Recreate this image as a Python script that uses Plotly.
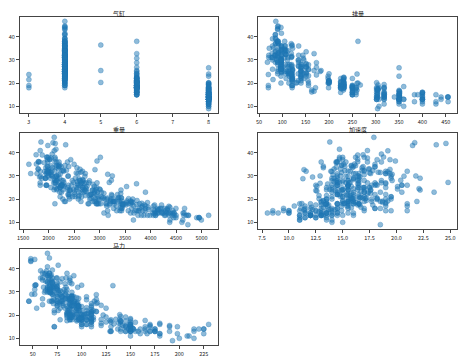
import plotly.graph_objects as go

# auto-mpg data (mpg vs. engine/vehicle characteristics)
mpg = [
    18,15,18,16,17,15,14,14,14,15,15,14,15,14,24,22,18,21,27,26,25,24,25,26,21,10,10,11,9,
    27,28,25,25,19,16,17,19,18,14,14,14,14,12,13,13,18,22,19,18,23,28,30,30,31,35,27,26,
    24,25,23,20,21,13,14,15,14,17,11,13,12,13,19,15,13,13,14,18,22,21,26,22,28,23,28,27,
    13,14,13,14,15,12,13,13,14,13,12,13,18,16,18,18,23,26,11,12,13,12,18,20,21,22,18,19,21,26,15,16,29,24,20,19,15,24,20,11,
    20,21,19,15,31,26,32,25,16,16,18,16,13,14,14,14,29,26,26,31,32,28,24,26,24,26,31,
    19,18,15,15,16,15,16,14,17,16,15,18,21,20,13,29,23,20,23,24,25,24,18,29,19,23,23,22,25,33,
    28,25,25,26,27,17.5,16,15.5,14.5,22,22,24,22.5,29,24.5,29,33,20,18,18.5,17.5,29.5,32,28,26.5,20,13,19,19,16.5,16.5,13,13,13,
    31.5,30,36,25.5,33.5,17.5,17,15.5,15,17.5,20.5,19,18.5,16,15.5,15.5,16,29,24.5,26,25.5,30.5,33.5,30,30.5,22,21.5,21.5,
    43.1,36.1,32.8,39.4,36.1,19.9,19.4,20.2,19.2,20.5,20.2,25.1,20.5,19.4,20.6,20.8,18.6,18.1,19.2,17.7,18.1,17.5,30,27.5,27.2,30.9,21.1,23.2,23.8,23.9,20.3,17,21.6,16.2,31.5,29.5,
    21.5,19.8,22.3,20.2,20.6,17,17.6,16.5,18.2,16.9,15.5,19.2,18.5,31.9,34.1,35.7,27.4,25.4,23,27.2,23.9,34.2,34.5,31.8,37.3,28.4,28.8,26.8,33.5,
    41.5,38.1,32.1,37.2,28,26.4,24.3,19.1,34.3,29.8,31.3,37,32.2,46.6,27.9,40.8,44.3,43.4,36.4,30,44.6,40.9,33.8,29.8,32.7,23.7,35,23.6,32.4,
    27.2,26.6,25.8,23.5,30,39.1,39,35.1,32.3,37,37.7,34.1,34.7,34.4,29.9,33,34.5,33.7,32.4,32.9,31.6,28.1,30.7,25.4,24.2,22.4,26.6,20.2,17.6,
    28,27,34,31,29,27,24,23,36,37,31,38,36,36,36,34,38,32,38,25,38,26,22,32,36,27,27,44,32,28,31,
]

cylinders = [
    8,8,8,8,8,8,8,8,8,8,8,8,8,8,4,6,6,6,4,4,4,4,4,4,6,8,8,8,8,
    4,4,4,4,6,6,6,6,6,8,8,8,8,8,8,8,6,4,6,6,4,4,4,4,4,4,4,4,
    4,4,4,4,4,8,8,8,8,8,8,8,8,8,3,8,8,8,8,4,4,4,4,4,4,4,4,4,
    8,8,8,8,8,8,8,8,8,8,8,8,6,6,6,6,6,4,8,8,8,8,6,4,4,4,3,4,6,4,8,8,4,4,4,4,8,4,6,8,
    6,6,6,6,4,4,4,4,6,6,6,8,8,8,8,8,4,4,4,4,4,4,4,4,4,4,4,
    6,6,6,6,8,8,8,8,6,6,6,6,6,8,8,4,4,6,4,4,4,4,6,4,6,4,4,4,4,4,
    4,4,4,4,4,8,8,8,8,6,6,6,6,4,4,4,4,6,6,6,6,4,4,4,4,4,8,4,6,6,8,8,8,8,
    4,4,4,4,4,8,8,8,8,6,6,6,6,8,8,8,8,4,4,4,4,4,4,4,4,6,4,3,
    4,4,4,4,4,8,8,8,6,6,6,4,6,6,6,6,6,6,8,6,8,8,4,4,4,4,4,4,4,4,5,6,4,6,4,4,
    6,6,4,6,6,8,8,8,8,8,8,8,8,4,4,4,4,5,8,4,8,4,4,4,4,4,6,6,4,
    4,4,4,4,4,4,4,6,4,4,4,4,4,4,4,4,4,4,5,4,4,4,4,4,6,3,4,4,4,
    4,4,4,6,4,4,4,4,4,4,4,4,4,4,4,4,4,4,4,4,4,4,6,6,6,6,8,6,6,
    4,4,4,4,4,4,4,4,4,4,4,4,4,4,4,4,4,4,4,6,6,4,6,4,4,4,4,4,4,4,4,
]

displacement = [
    307,350,318,304,302,429,454,440,455,390,383,340,400,455,113,198,199,200,97,97,110,107,104,121,199,360,307,318,304,
    97,140,113,98,232,225,250,250,232,350,400,351,318,383,400,400,258,140,250,250,122,116,79,88,71,72,97,91,
    113,97.5,97,140,122,350,400,318,351,304,429,350,350,400,70,304,307,302,318,121,121,120,96,122,97,120,98,97,
    350,304,350,302,318,429,400,351,318,440,455,360,225,250,232,250,198,97,400,400,360,350,232,97,140,108,70,122,155,98,350,400,68,116,114,121,318,121,156,350,
    198,200,232,250,79,122,71,140,250,258,225,302,350,318,302,304,98,79,97,76,83,90,90,116,120,108,79,
    225,250,250,250,400,350,318,351,231,250,258,225,231,262,302,97,140,232,140,134,90,119,171,90,232,115,120,121,121,91,
    107,116,140,98,101,305,318,304,351,225,250,200,232,85,98,90,91,225,250,250,258,97,85,97,140,130,318,120,156,168,350,350,302,318,
    98,111,79,122,85,305,260,318,302,250,231,225,250,400,350,400,351,97,151,97,140,98,98,97,97,146,121,80,
    90,98,78,85,91,260,318,302,231,200,200,140,225,232,231,200,225,258,305,231,302,318,98,134,119,105,134,156,151,119,131,163,121,163,89,98,
    231,200,140,232,225,305,302,351,318,350,351,267,360,89,86,98,121,183,350,141,260,105,105,85,91,151,173,173,151,
    98,89,98,86,151,140,151,225,97,134,120,119,108,86,156,85,90,90,121,146,91,85,97,89,168,70,122,140,107,
    135,151,156,173,135,79,86,81,97,85,89,91,105,98,98,105,100,107,108,119,120,141,145,168,146,231,350,200,225,
    112,112,112,112,135,151,140,151,105,91,91,105,98,120,107,108,91,91,91,181,262,156,232,144,135,151,140,97,135,120,119,
]

horsepower = [
    130,165,150,150,140,198,220,215,225,190,170,160,150,225,95,95,97,85,88,46,87,90,95,113,90,215,200,210,193,
    88,90,95,None,100,105,100,88,100,165,175,153,150,180,170,175,110,72,100,88,86,90,70,76,65,69,60,70,
    95,80,54,90,86,165,175,150,153,150,208,155,160,190,97,150,130,140,150,112,76,87,69,86,92,97,80,88,
    175,150,145,137,150,198,150,158,150,215,225,175,105,100,100,88,95,46,150,167,170,180,100,88,72,94,90,85,107,90,145,230,49,75,91,112,150,110,122,180,
    95,None,100,100,67,80,65,75,100,110,105,140,150,150,140,150,83,67,78,52,61,75,75,75,97,93,67,
    95,105,72,72,170,145,150,148,110,105,110,95,110,110,129,75,83,100,78,96,71,97,97,70,90,95,88,98,115,53,
    86,81,92,79,83,140,150,120,152,100,105,81,90,52,60,70,53,100,78,110,95,71,70,75,72,102,150,88,108,120,180,145,130,150,
    68,80,58,96,70,145,110,145,130,110,105,100,98,180,170,190,149,78,88,75,89,63,83,67,78,97,110,110,
    48,66,52,70,60,110,140,139,105,95,85,88,100,90,105,85,110,120,145,165,139,140,68,95,97,75,95,105,85,97,103,125,115,133,71,68,
    115,85,88,90,110,130,129,138,135,155,142,125,150,71,65,80,80,77,125,71,90,70,70,65,69,90,115,115,90,
    76,60,70,65,90,88,90,90,78,90,75,92,75,65,105,65,48,48,67,67,67,None,67,62,132,100,88,None,72,
    84,84,92,110,84,58,64,60,67,65,62,68,63,65,65,74,None,75,75,100,74,80,76,116,120,110,105,88,85,
    88,88,88,85,84,90,92,None,74,68,68,63,70,88,75,70,67,67,67,110,85,92,112,96,84,90,86,52,84,79,82,
]

weight = [
    3504,3693,3436,3433,3449,4341,4354,4312,4425,3850,3563,3609,3761,3086,2372,2833,2774,2587,2130,1835,2672,2430,2375,2234,2648,4615,4376,4382,4732,
    2130,2264,2228,2046,2634,3439,3329,3302,3288,4209,4464,4154,4096,4955,4746,5140,2962,2408,3282,3139,2220,2123,2074,2065,1773,1613,1834,1955,
    2278,2126,2254,2408,2226,4274,4385,4135,4129,3672,4633,4502,4456,4422,2330,3892,4098,4294,4077,2933,2511,2979,2189,2395,2288,2506,2164,2100,
    4100,3672,3988,4042,3777,4952,4464,4363,4237,4735,4951,3821,3121,3278,2945,3021,2904,1950,4997,4906,4654,4499,2789,2279,2401,2379,2124,2310,2472,2265,4082,4278,1867,2158,2582,2868,3399,2660,2807,3664,
    3102,2875,2901,3336,1950,2451,1836,2542,3781,3632,3613,4141,4699,4457,4638,4257,2219,1963,2300,1649,2003,2125,2108,2246,2489,2391,2000,
    3264,3459,3432,3158,4668,4440,4498,4657,3907,3897,3730,3785,3039,3221,3169,2171,2639,2914,2592,2702,2223,2545,2984,1937,3211,2694,2957,2945,2671,1795,
    2464,2220,2572,2255,2202,4215,4190,3962,4215,3233,3353,3012,3085,2035,2164,1937,1795,3651,3574,3645,3193,1825,1990,2155,2565,3150,3940,3270,2930,3820,4380,4055,3870,3755,
    2045,2155,1825,2300,1945,3880,4060,4140,4295,3520,3425,3630,3525,4220,4165,4325,4335,1940,2740,2265,2755,2051,2075,1985,2190,2815,2600,2720,
    1985,1800,1985,2070,1800,3365,3735,3570,3535,3155,2965,2720,3430,3210,3380,3070,3620,3410,3425,3445,3205,4080,2155,2560,2300,2230,2515,2745,2855,2405,2830,3140,2795,3410,1990,2135,
    3245,2990,2890,3265,3360,3840,3725,3955,3830,4360,4054,3605,3940,1925,1975,1915,2670,3530,3900,3190,3420,2200,2150,2020,2130,2670,2595,2700,2556,
    2144,1968,2120,2019,2678,2870,3003,3381,2188,2711,2542,2434,2265,2110,2800,2110,2085,2335,2950,3250,1850,1835,2145,1845,2910,2420,2500,2905,2290,
    2490,2635,2620,2725,2385,1755,1875,1760,2065,1975,2050,1985,2215,2045,2380,2190,2320,2210,2350,2615,2635,3230,3160,2900,2930,3415,3725,3060,3465,
    2605,2640,2395,2575,2525,2735,2865,3035,1980,2025,1970,2125,2125,2160,2205,2245,1965,1965,1995,2945,3015,2585,2835,2665,2370,2950,2790,2130,2295,2625,2720,
]

acceleration = [
    12,11.5,11,12,10.5,10,9,8.5,10,8.5,10,8,9.5,10,15,15.5,15.5,16,14.5,20.5,17.5,14.5,17.5,12.5,15,14,15,13.5,18.5,
    14.5,15.5,14,19,13,15.5,15.5,15.5,15.5,12,11.5,13.5,13,11.5,12,12,13.5,19,15,14.5,14,14,19.5,14.5,19,18,19,20.5,
    15.5,17,23.5,19.5,16.5,12,12,13.5,13,11.5,11,13.5,13.5,12.5,13.5,12.5,14,16,14,14.5,18,19.5,18,16,17,14.5,15,16.5,
    13,11.5,13,14.5,12.5,11.5,12,13,14.5,11,11,11,16.5,18,16,16.5,16,21,14,12.5,13,12.5,15,19,19.5,16.5,13.5,18.5,14,15.5,13,9.5,19.5,15.5,14,15.5,11,14,13.5,11,
    16.5,17,16,17,19,16.5,21,17,17,18,16.5,14,14.5,13.5,16,15.5,16.5,15.5,14.5,16.5,19,14.5,15.5,14,15,15.5,16,
    16,16,21,19.5,11.5,14,14.5,13.5,21,18.5,19,19,15,13.5,12,16,17,16,18.5,13.5,16.5,17,14.5,14,17,15,17,14.5,13.5,17.5,
    15.5,16.9,14.9,17.7,15.3,13,13,13.9,12.8,15.4,14.5,17.6,17.6,22.2,22.1,14.2,17.4,17.7,21,16.2,17.8,12.2,17,16.4,13.6,15.7,13.2,21.9,15.5,16.7,12.1,12,15,14,
    18.5,14.8,18.6,15.5,16.8,12.5,19,13.7,14.9,16.4,16.9,17.7,19,11.1,11.4,12.2,14.5,14.5,16,18.2,15.8,17,15.9,16.4,14.1,14.5,12.8,13.5,
    21.5,14.4,19.4,18.6,16.4,15.5,13.2,12.8,19.2,18.2,15.8,15.4,17.2,17.2,15.8,16.7,18.7,15.1,13.2,13.4,11.2,13.7,16.5,14.2,14.7,14.5,14.8,16.7,17.6,14.9,15.9,13.6,15.7,15.8,14.9,16.6,
    15.4,18.2,17.3,18.2,16.6,15.4,13.4,13.2,15.2,14.9,14.3,15,13,14,15.2,14.4,15,20.1,17.4,24.8,22.2,13.2,14.9,19.2,14.7,16,11.3,12.9,13.2,
    14.7,18.8,15.5,16.4,16.5,18.1,20.1,18.7,15.8,15.5,17.5,15,15.2,17.9,14.4,19.2,21.7,23.7,19.9,21.8,13.8,17.3,18,15.3,11.4,12.5,15.1,14.3,17,
    15.7,16.4,14.4,12.6,12.9,16.9,16.4,16.1,17.8,19.4,17.3,16,14.9,16.2,20.7,14.2,15.8,14.4,16.8,14.8,18.3,20.4,19.6,12.6,13.8,15.8,19,17.1,16.6,
    19.6,18.6,18,16.2,16,18,16.4,20.5,15.3,18.2,17.6,14.7,17.3,14.5,14.5,16.9,15,15.7,16.2,16.4,17,14.5,14.7,13.9,13,17.3,15.6,24.6,11.6,18.6,19.4,
]

titles = ["气缸", "排量", "重量", "加速度", "马力"]
y_ticks = [10, 20, 30, 40]

assert len(mpg) == len(cylinders) == len(displacement) == len(horsepower) == len(weight) == len(acceleration)

W, H = 474, 363
FONT = "Noto Sans CJK SC, DejaVu Sans, sans-serif"
BLUE = "rgba(31,119,180,0.5)"

# panel frames in pixels: (left, right) and (top, bottom)
cols = [(17, 216), (257, 457)]
rows = [(17, 113), (133, 229), (249, 345)]

panels = [
    (cylinders, titles[0], dict(tick0=3, dtick=1), None),
    (displacement, titles[1], dict(tick0=50, dtick=50), None),
    (weight, titles[2], dict(tick0=1500, dtick=500), None),
    (acceleration, titles[3], dict(tick0=7.5, dtick=2.5), ".1f"),
    (horsepower, titles[4], dict(tick0=50, dtick=25), None),
]


def pad_range(vals, frac=0.05):
    v = [x for x in vals if x is not None]
    lo, hi = min(v), max(v)
    d = (hi - lo) * frac
    return [lo - d, hi + d]


fig = go.Figure()
layout = dict(
    width=W, height=H,
    margin=dict(l=0, r=0, t=0, b=0),
    paper_bgcolor="white", plot_bgcolor="white",
    showlegend=False,
    font=dict(family=FONT, size=5, color="#222"),
    annotations=[],
)

yr = pad_range(mpg)
for i, (xs, title, tk, fmt) in enumerate(panels):
    r, c = divmod(i, 2)
    left, right = cols[c]
    top, bottom = rows[r]
    n = "" if i == 0 else str(i + 1)
    fig.add_trace(go.Scatter(
        x=xs, y=mpg, mode="markers",
        xaxis="x" + n, yaxis="y" + n,
        marker=dict(size=5, color=BLUE, line=dict(width=0.6, color=BLUE)),
        hoverinfo="skip",
    ))
    axis_common = dict(
        showgrid=False, zeroline=False,
        showline=True, mirror=True, linecolor="#444", linewidth=1,
        ticks="outside", ticklen=3, tickwidth=1, tickcolor="#444",
        tickfont=dict(family=FONT, size=5.5, color="#222"),
    )
    xa = dict(axis_common, domain=[left / W, right / W], anchor="y" + n,
              range=pad_range(xs), tickmode="linear", **tk)
    if fmt:
        xa["tickformat"] = fmt
    ya = dict(axis_common, domain=[(H - bottom) / H, (H - top) / H], anchor="x" + n,
              range=yr, tickmode="array", tickvals=y_ticks)
    layout["xaxis" + n] = xa
    layout["yaxis" + n] = ya
    layout["annotations"].append(dict(
        text=title, xref="paper", yref="paper",
        x=(left + right) / 2 / W, y=(H - top + 3.5) / H,
        xanchor="center", yanchor="middle", showarrow=False, borderpad=0,
        font=dict(family=FONT, size=6, color="#111"),
    ))

fig.update_layout(**layout)
fig.write_html(
    "out.html",
    config={"displayModeBar": False},
    post_script="document.body.style.margin='0';document.body.style.overflow='hidden';",
)
